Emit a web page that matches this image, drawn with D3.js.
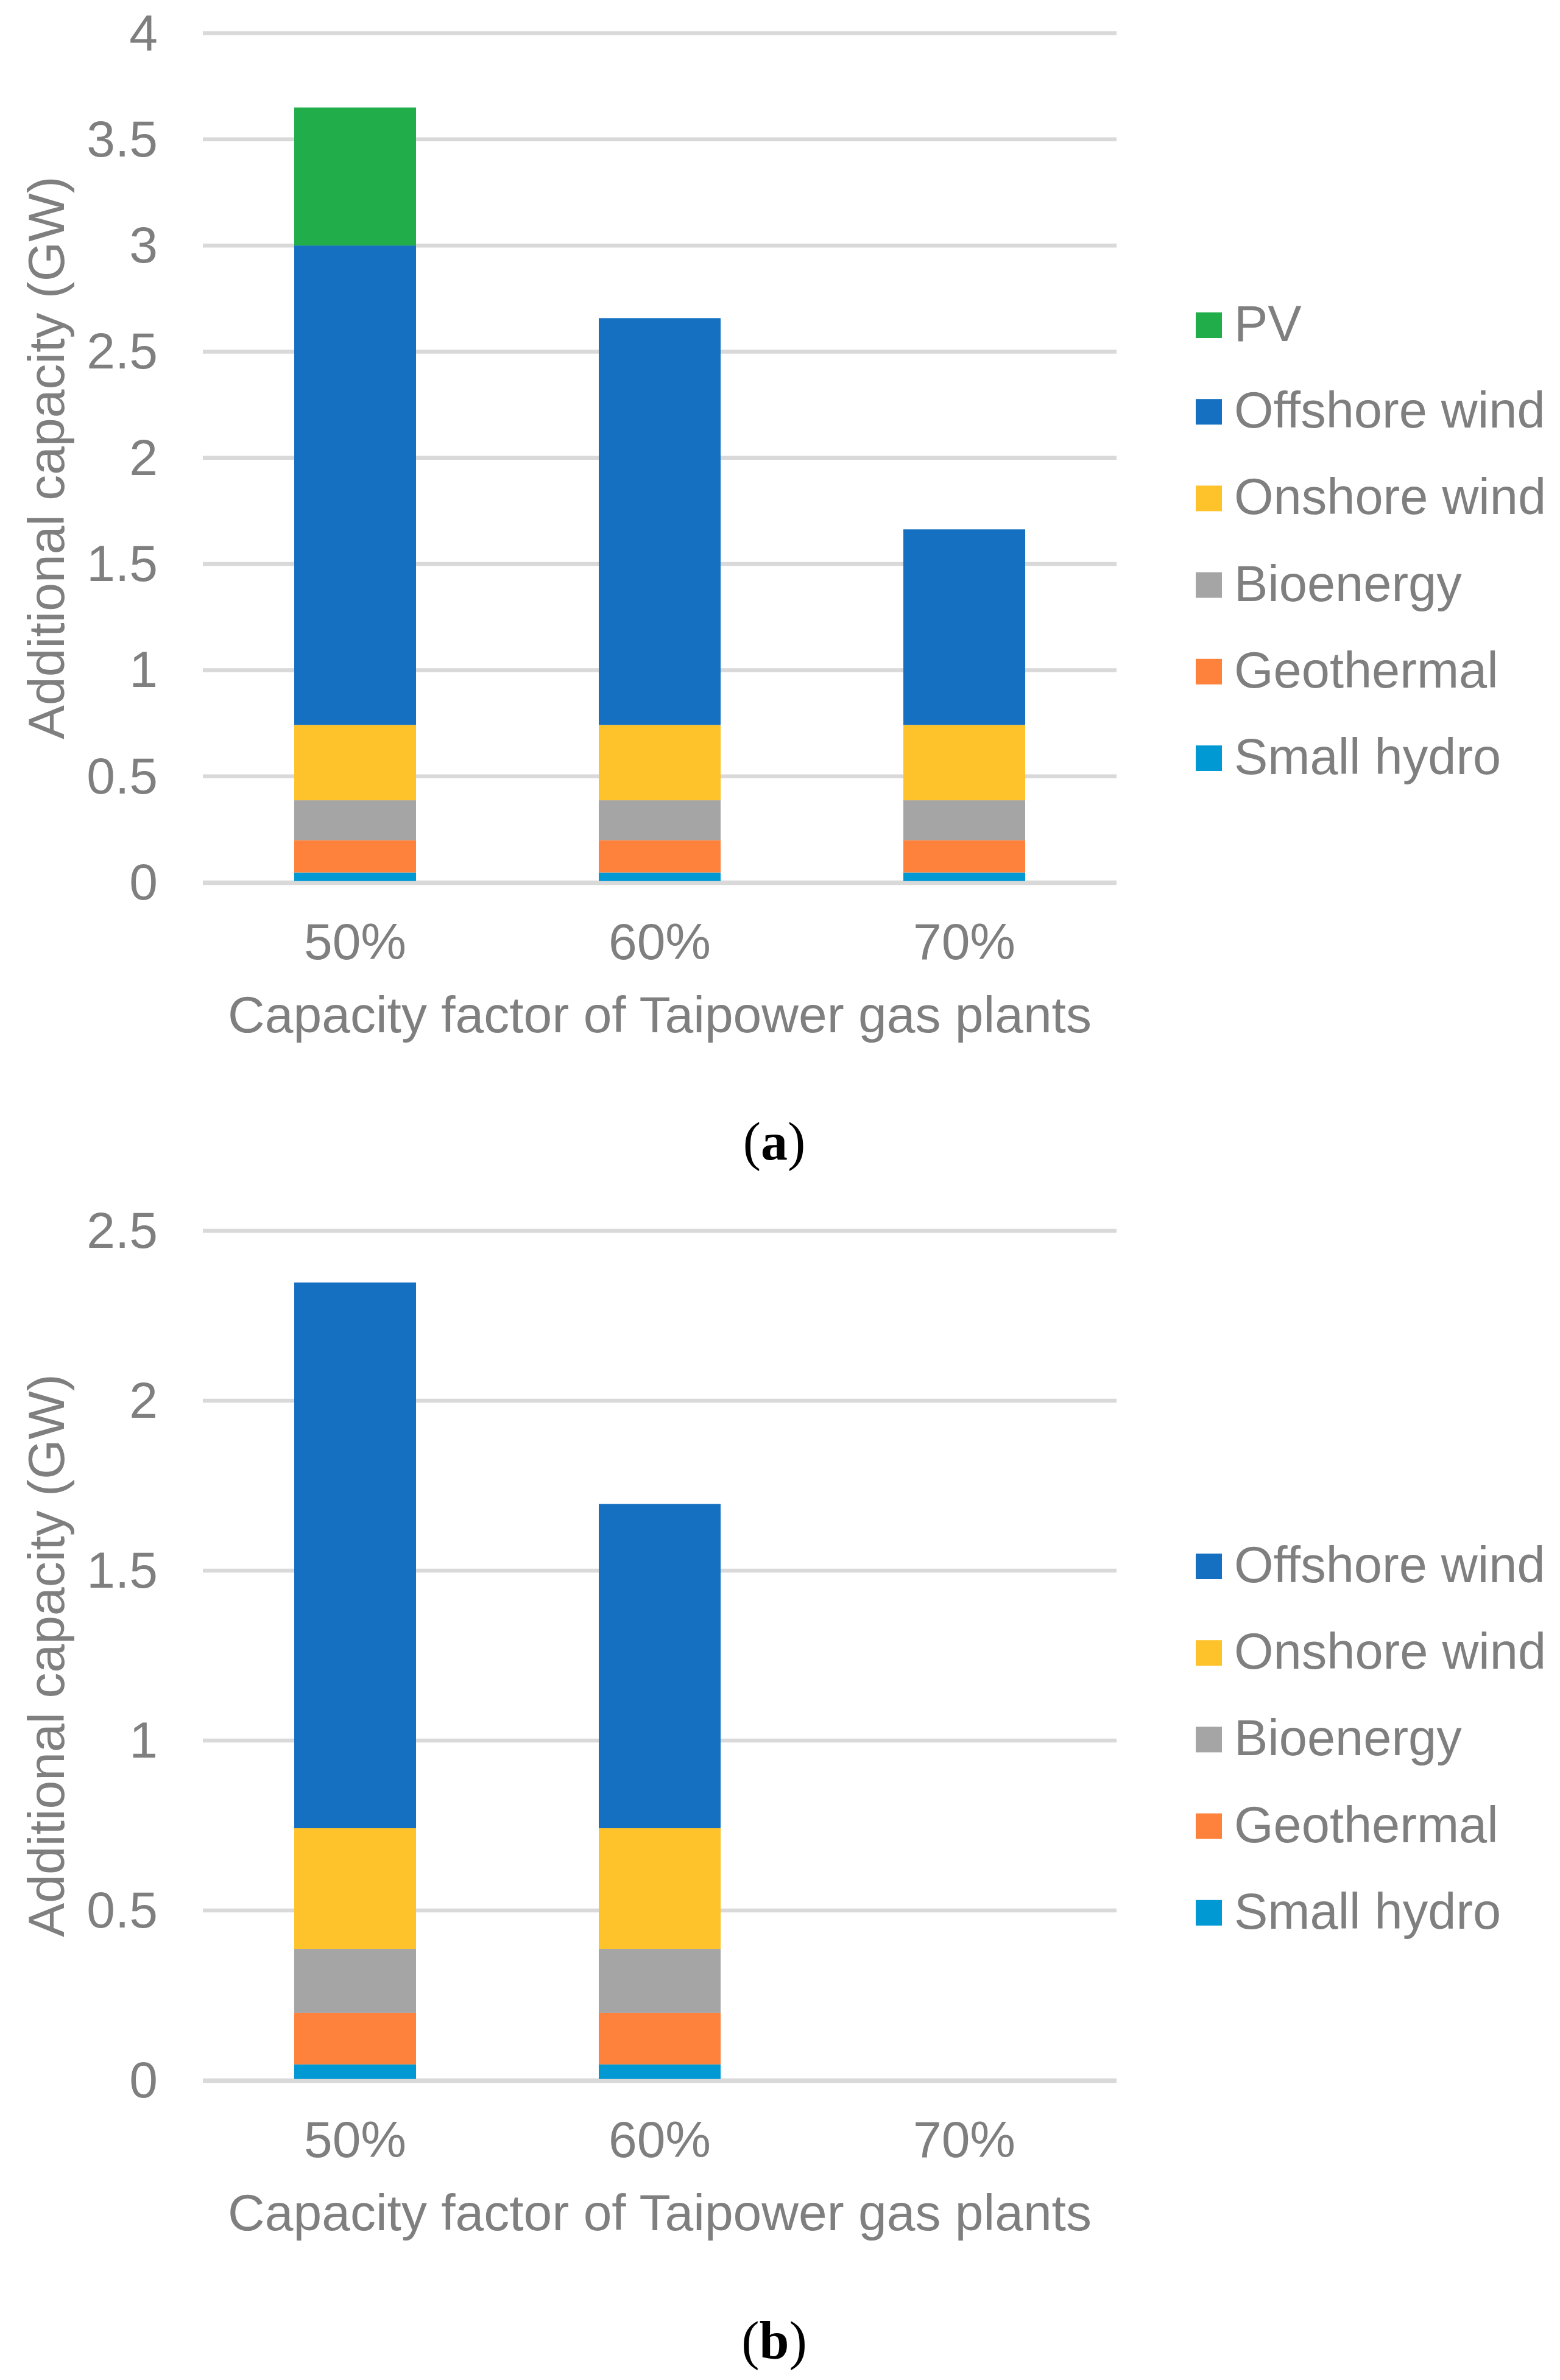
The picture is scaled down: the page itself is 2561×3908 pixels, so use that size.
<!DOCTYPE html>
<html>
<head>
<meta charset="utf-8">
<script src="https://cdn.jsdelivr.net/npm/d3@7"></script>
<style>
  html, body { margin: 0; padding: 0; background: #fff; }
  svg { display: block; }
</style>
</head>
<body>
<div id="chart"></div>
<script>
// capacity factor categories (shared by both panels)
const categories = ["50%", "60%", "70%"];

// series, stacked bottom to top
const seriesNames = ["Small hydro", "Geothermal", "Bioenergy", "Onshore wind", "Offshore wind", "PV"];
const seriesColors = ["#0099d3", "#fe813c", "#a5a5a5", "#fec22b", "#1570c1", "#21ad4a"];

// panel (a) values, GW
const smallHydroA = [0.047, 0.047, 0.047];
const geothermalA = [0.152, 0.152, 0.152];
const bioenergyA  = [0.188, 0.188, 0.188];
const onshoreA    = [0.355, 0.355, 0.355];
const offshoreA   = [2.258, 1.916, 0.921];
const pvA         = [0.65, 0, 0];

// panel (b) values, GW
const smallHydroB = [0.047, 0.047, 0];
const geothermalB = [0.152, 0.152, 0];
const bioenergyB  = [0.188, 0.188, 0];
const onshoreB    = [0.355, 0.355, 0];
const offshoreB   = [1.606, 0.954, 0];

// y axis ticks
const ticksA = [0, 0.5, 1, 1.5, 2, 2.5, 3, 3.5, 4];
const ticksB = [0, 0.5, 1, 1.5, 2, 2.5];

const W = 2561, H = 3908;
const textColor = "#7f7f7f";
const gridColor = "#d9d9d9";
const sansFont = "'Liberation Sans', Arial, sans-serif";

const svg = d3.select("#chart").append("svg")
  .attr("width", W)
  .attr("height", H);

svg.append("rect").attr("width", W).attr("height", H).attr("fill", "#fff");

function buildRows(cols, keys) {
  return categories.map((c, i) => {
    const row = {cat: c};
    keys.forEach((k, j) => row[k] = cols[j][i]);
    return row;
  });
}

function drawPanel(opts) {
  const {rows, keys, ticks, yTop, yZero, legendY, label, labelY} = opts;
  const g = svg.append("g");

  const x = d3.scaleBand()
    .domain(categories)
    .range([333, 1833])
    .paddingInner(0.6)
    .paddingOuter(0.3);

  const y = d3.scaleLinear()
    .domain([0, d3.max(ticks)])
    .range([yZero, yTop]);

  // gridlines
  g.append("g")
    .selectAll("line")
    .data(ticks)
    .join("line")
    .attr("x1", 333)
    .attr("x2", 1833)
    .attr("y1", d => y(d))
    .attr("y2", d => y(d))
    .attr("stroke", gridColor)
    .attr("stroke-width", 6.5);

  // y tick labels
  g.append("g")
    .selectAll("text")
    .data(ticks)
    .join("text")
    .attr("x", 259)
    .attr("y", d => y(d) + 28)
    .attr("text-anchor", "end")
    .style("font-family", sansFont)
    .style("font-size", "84px")
    .attr("fill", textColor)
    .text(d => d3.format("~g")(d));

  // stacked bars
  const stack = d3.stack().keys(keys)(rows);
  const colorOf = d3.scaleOrdinal().domain(seriesNames).range(seriesColors);

  g.append("g")
    .selectAll("g")
    .data(stack)
    .join("g")
    .attr("fill", d => colorOf(d.key))
    .selectAll("rect")
    .data(d => d.filter(p => p[1] - p[0] > 0))
    .join("rect")
    .attr("x", d => x(d.data.cat))
    .attr("width", x.bandwidth())
    .attr("y", d => y(d[1]))
    .attr("height", d => y(d[0]) - y(d[1]));

  // baseline drawn over the bars
  g.append("line")
    .attr("x1", 333)
    .attr("x2", 1833)
    .attr("y1", y(0) + 1)
    .attr("y2", y(0) + 1)
    .attr("stroke", gridColor)
    .attr("stroke-width", 6.5);

  // x tick labels
  g.append("g")
    .selectAll("text")
    .data(categories)
    .join("text")
    .attr("x", d => x(d) + x.bandwidth() / 2)
    .attr("y", yZero + 126)
    .attr("text-anchor", "middle")
    .style("font-family", sansFont)
    .style("font-size", "84px")
    .attr("fill", textColor)
    .text(d => d);

  // axis titles
  g.append("text")
    .attr("x", 1083)
    .attr("y", yZero + 246)
    .attr("text-anchor", "middle")
    .style("font-family", sansFont)
    .style("font-size", "84px")
    .attr("fill", textColor)
    .text("Capacity factor of Taipower gas plants");

  g.append("text")
    .attr("transform", `translate(105,${(yTop + yZero) / 2}) rotate(-90)`)
    .attr("text-anchor", "middle")
    .style("font-family", sansFont)
    .style("font-size", "84px")
    .attr("fill", textColor)
    .text("Additional capacity (GW)");

  // legend, top series first
  const legendKeys = keys.slice().reverse();
  const item = g.append("g")
    .selectAll("g")
    .data(legendKeys)
    .join("g")
    .attr("transform", (d, i) => `translate(1963,${legendY + i * 142.2})`);

  item.append("rect")
    .attr("x", 0)
    .attr("y", -21)
    .attr("width", 43)
    .attr("height", 42)
    .attr("fill", d => colorOf(d));

  item.append("text")
    .attr("x", 63)
    .attr("y", 26)
    .style("font-family", sansFont)
    .style("font-size", "83px")
    .attr("fill", textColor)
    .text(d => d);

  // panel label
  const lab = svg.append("text")
    .attr("x", 1271)
    .attr("y", labelY)
    .attr("text-anchor", "middle")
    .style("font-family", "'Liberation Serif', 'Times New Roman', serif")
    .style("font-size", "88px")
    .attr("fill", "#000");
  lab.append("tspan").text("(");
  lab.append("tspan").style("font-weight", "bold").text(label);
  lab.append("tspan").text(")");
}

const keysA = seriesNames;
const rowsA = buildRows([smallHydroA, geothermalA, bioenergyA, onshoreA, offshoreA, pvA], keysA);

const keysB = seriesNames.slice(0, 5);
const rowsB = buildRows([smallHydroB, geothermalB, bioenergyB, onshoreB, offshoreB], keysB);

drawPanel({rows: rowsA, keys: keysA, ticks: ticksA, yTop: 54.5, yZero: 1449,
  legendY: 534, label: "a", labelY: 1904});

drawPanel({rows: rowsB, keys: keysB, ticks: ticksB, yTop: 2021, yZero: 3416,
  legendY: 2572, label: "b", labelY: 3873});
</script>
</body>
</html>
